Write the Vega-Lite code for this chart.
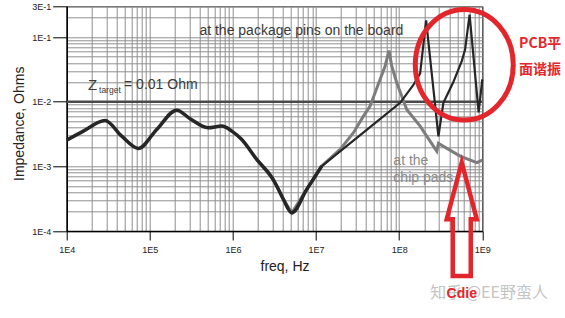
{
  "$schema": "https://vega.github.io/schema/vega-lite/v6.json",
  "autosize": {"type": "none"},
  "width": 415.6,
  "height": 224.7,
  "padding": {"left": 66.7, "top": 6.3, "right": 82.7, "bottom": 87},
  "background": "white",
  "config": {
    "view": {"stroke": "#000", "strokeWidth": 1},
    "font": "Liberation Sans",
    "text": {"font": "Liberation Sans"}
  },
  "datasets": {
    "curves": [
      {"s": "pins", "f": 10000, "z": 0.002547},
      {"s": "pins", "f": 15849, "z": 0.003516},
      {"s": "pins", "f": 28907, "z": 0.00514},
      {"s": "pins", "f": 45920, "z": 0.002938},
      {"s": "pins", "f": 72778, "z": 0.001897},
      {"s": "pins", "f": 121060, "z": 0.003733},
      {"s": "pins", "f": 210863, "z": 0.007413},
      {"s": "pins", "f": 304789, "z": 0.005458},
      {"s": "pins", "f": 501187, "z": 0.003963},
      {"s": "pins", "f": 732825, "z": 0.004198},
      {"s": "pins", "f": 968278, "z": 0.003516},
      {"s": "pins", "f": 1276000, "z": 0.002612},
      {"s": "pins", "f": 1932000, "z": 0.001282},
      {"s": "pins", "f": 3041000, "z": 0.0006295},
      {"s": "pins", "f": 3365000, "z": 0.0004966},
      {"s": "pins", "f": 4046000, "z": 0.000309},
      {"s": "pins", "f": 5105000, "z": 0.000191},
      {"s": "pins", "f": 7727000, "z": 0.0004406},
      {"s": "pins", "f": 11720000, "z": 0.001012},
      {"s": "pins", "f": 44670000, "z": 0.004064},
      {"s": "pins", "f": 102600000, "z": 0.009638},
      {"s": "pins", "f": 146900000, "z": 0.01786},
      {"s": "pins", "f": 178600000, "z": 0.02735},
      {"s": "pins", "f": 210900000, "z": 0.1824},
      {"s": "pins", "f": 296500000, "z": 0.00291},
      {"s": "pins", "f": 340400000, "z": 0.00966},
      {"s": "pins", "f": 445700000, "z": 0.01982},
      {"s": "pins", "f": 566200000, "z": 0.04246},
      {"s": "pins", "f": 620900000, "z": 0.06427},
      {"s": "pins", "f": 703100000, "z": 0.2234},
      {"s": "pins", "f": 903600000, "z": 0.006839},
      {"s": "pins", "f": 1000000000, "z": 0.02213},
      {"s": "pads", "f": 1932000, "z": 0.001282},
      {"s": "pads", "f": 3041000, "z": 0.0006295},
      {"s": "pads", "f": 3365000, "z": 0.0004966},
      {"s": "pads", "f": 4046000, "z": 0.000309},
      {"s": "pads", "f": 5105000, "z": 0.000191},
      {"s": "pads", "f": 7727000, "z": 0.0004406},
      {"s": "pads", "f": 11720000, "z": 0.001012},
      {"s": "pads", "f": 19450000, "z": 0.001832},
      {"s": "pads", "f": 28180000, "z": 0.003319},
      {"s": "pads", "f": 37150000, "z": 0.005984},
      {"s": "pads", "f": 44670000, "z": 0.008551},
      {"s": "pads", "f": 58880000, "z": 0.02213},
      {"s": "pads", "f": 67610000, "z": 0.03548},
      {"s": "pads", "f": 75510000, "z": 0.06209},
      {"s": "pads", "f": 81470000, "z": 0.03548},
      {"s": "pads", "f": 93540000, "z": 0.01968},
      {"s": "pads", "f": 123300000, "z": 0.007603},
      {"s": "pads", "f": 178600000, "z": 0.004198},
      {"s": "pads", "f": 283100000, "z": 0.001722},
      {"s": "pads", "f": 296500000, "z": 0.002265},
      {"s": "pads", "f": 540800000, "z": 0.001442},
      {"s": "pads", "f": 859000000, "z": 0.00114},
      {"s": "pads", "f": 1000000000, "z": 0.00125}
    ]
  },
  "encoding": {
    "x": {
      "field": "f", "type": "quantitative",
      "scale": {"type": "log", "domain": [10000, 1000000000], "nice": false},
      "axis": {
        "title": "freq, Hz",
        "titleFont": "Liberation Sans", "titleFontSize": 14, "titleFontWeight": "normal", "titleColor": "#222",
        "titleX": 217.8, "titleY": 35.7, "titleBaseline": "middle", "titleAlign": "center",
        "values": [10000,20000,30000,40000,50000,60000,70000,80000,90000,100000,200000,300000,400000,500000,600000,700000,800000,900000,1000000,2000000,3000000,4000000,5000000,6000000,7000000,8000000,9000000,10000000,20000000,30000000,40000000,50000000,60000000,70000000,80000000,90000000,100000000,200000000,300000000,400000000,500000000,600000000,700000000,800000000,900000000,1000000000],
        "labelExpr": "abs(log(datum.value)/LN10 - round(log(datum.value)/LN10)) < 0.001 ? '1E' + round(log(datum.value)/LN10) : ''",
        "labelFont": "Liberation Sans", "labelFontSize": 9, "labelColor": "#222",
        "labelOverlap": false, "labelFlush": false, "labelBound": false, "labelPadding": 5,
        "tickSize": 9, "tickColor": "#000", "tickWidth": 1,
        "tickOpacity": {"condition": {"test": "abs(log(datum.value)/LN10 - round(log(datum.value)/LN10)) < 0.001", "value": 1}, "value": 0},
        "domainColor": "#000", "domainWidth": 1.5,
        "grid": true, "gridColor": "#8f8f8f", "gridWidth": 1, "gridOpacity": 1
      }
    },
    "y": {
      "field": "z", "type": "quantitative",
      "scale": {"type": "log", "domain": [0.0001, 0.3], "nice": false},
      "axis": {
        "title": "Impedance, Ohms",
        "titleFont": "Liberation Sans", "titleFontSize": 14, "titleFontWeight": "normal", "titleColor": "#222",
        "titleX": -46.7, "titleY": 117, "titleBaseline": "middle", "titleAlign": "center", "titleAngle": -90,
        "values": [0.0001,0.0002,0.0003,0.0004,0.0005,0.0006,0.0007,0.0008,0.0009,0.001,0.002,0.003,0.004,0.005,0.006,0.007,0.008,0.009,0.01,0.02,0.03,0.04,0.05,0.06,0.07,0.08,0.09,0.1,0.2,0.3],
        "labelExpr": "datum.value > 0.25 ? '3E-1' : (abs(log(datum.value)/LN10 - round(log(datum.value)/LN10)) < 0.001 ? '1E' + round(log(datum.value)/LN10) : '')",
        "labelFont": "Liberation Sans", "labelFontSize": 9, "labelColor": "#222",
        "labelOverlap": false, "labelFlush": false, "labelBound": false, "labelPadding": 2,
        "tickSize": 14, "tickColor": "#000", "tickWidth": 1,
        "tickOpacity": {"condition": {"test": "datum.value > 0.25 || abs(log(datum.value)/LN10 - round(log(datum.value)/LN10)) < 0.001", "value": 1}, "value": 0},
        "domainColor": "#000", "domainWidth": 1.5,
        "grid": true, "gridColor": "#8f8f8f", "gridWidth": 1, "gridOpacity": 1
      }
    }
  },
  "layer": [
    {
      "data": {"values": [{"f": 10000, "f2": 1000000000, "z": 0.01}]},
      "mark": {"type": "rule", "color": "#4a4a4a", "strokeWidth": 2.5},
      "encoding": {"x2": {"field": "f2"}}
    },
    {
      "data": {"name": "curves"},
      "transform": [{"filter": "datum.s == 'pads'"}],
      "mark": {"type": "line", "color": "#7d7d7d", "strokeWidth": 3, "interpolate": "linear", "strokeJoin": "miter"}
    },
    {
      "data": {"name": "curves"},
      "transform": [{"filter": "datum.s == 'pins' && datum.f <= 12000000"}],
      "mark": {"type": "line", "color": "#262626", "strokeWidth": 3.5, "interpolate": "monotone"}
    },
    {
      "data": {"name": "curves"},
      "transform": [{"filter": "datum.s == 'pins' && datum.f >= 11700000"}],
      "mark": {"type": "line", "color": "#262626", "strokeWidth": 2.2, "interpolate": "linear", "strokeJoin": "miter"}
    },
    {
      "data": {"values": [{"f": 395000, "z": 0.1233, "t": "at the package pins on the board"}]},
      "mark": {"type": "text", "align": "left", "baseline": "middle", "fontSize": 14, "color": "#3a3a3a", "font": "Liberation Sans"},
      "encoding": {"text": {"field": "t"}}
    },
    {
      "data": {"values": [{"f": 18030, "z": 0.01849, "t": "Z"}]},
      "mark": {"type": "text", "align": "left", "baseline": "middle", "fontSize": 15, "color": "#3a3a3a", "font": "Liberation Sans"},
      "encoding": {"text": {"field": "t"}}
    },
    {
      "data": {"values": [{"f": 24490, "z": 0.01496, "t": "target"}]},
      "mark": {"type": "text", "align": "left", "baseline": "middle", "fontSize": 8.5, "color": "#3a3a3a", "font": "Liberation Sans"},
      "encoding": {"text": {"field": "t"}}
    },
    {
      "data": {"values": [{"f": 48980, "z": 0.01849, "t": "= 0.01 Ohm"}]},
      "mark": {"type": "text", "align": "left", "baseline": "middle", "fontSize": 14, "color": "#3a3a3a", "font": "Liberation Sans"},
      "encoding": {"text": {"field": "t"}}
    },
    {
      "data": {"values": [{"f": 85100000, "z": 0.001208, "t": "at the"}, {"f": 85100000, "z": 0.000668, "t": "chip pads"}]},
      "mark": {"type": "text", "align": "left", "baseline": "middle", "fontSize": 14, "color": "#8a8a8a", "font": "Liberation Sans"},
      "encoding": {"text": {"field": "t"}}
    },
    {
      "data": {"values": [{"f": 1208000000, "z": 0.00001089, "t": "知乎 @EE野蛮人"}]},
      "mark": {"type": "text", "align": "center", "baseline": "middle", "fontSize": 16, "color": "#c4c4c4", "font": "Noto Sans CJK SC"},
      "encoding": {"text": {"field": "t"}}
    },
    {
      "data": {"values": [{"f": 566000000, "z": 0.000152}]},
      "mark": {"type": "point", "shape": "M 0 -1 L 0.265 0 L 0.159 0 L 0.159 1 L -0.159 1 L -0.159 0 L -0.265 0 Z", "size": 12860, "filled": false, "color": "#e3262c", "strokeWidth": 4.5, "opacity": 1, "strokeJoin": "miter"}
    },
    {
      "data": {"values": [{"f": 607000000, "z": 0.0373}]},
      "mark": {"type": "point", "shape": "M -0.886 0 A 0.886 1 0 1 0 0.886 0 A 0.886 1 0 1 0 -0.886 0 Z", "size": 12233, "filled": false, "color": "#e3262c", "strokeWidth": 5, "opacity": 1}
    },
    {
      "data": {"values": [{"f": 566000000, "z": 0.00001052, "t": "Cdie"}]},
      "mark": {"type": "text", "align": "center", "baseline": "middle", "fontSize": 14, "fontWeight": "bold", "color": "#e3262c", "font": "Liberation Sans"},
      "encoding": {"text": {"field": "t"}}
    },
    {
      "data": {"values": [{"f": 2773000000, "z": 0.0796, "t": "PCB平"}, {"f": 2773000000, "z": 0.03155, "t": "面谐振"}]},
      "mark": {"type": "text", "align": "left", "baseline": "middle", "fontSize": 14, "fontWeight": "bold", "color": "#e3262c", "font": "Noto Sans CJK SC"},
      "encoding": {"text": {"field": "t"}}
    }
  ]
}
